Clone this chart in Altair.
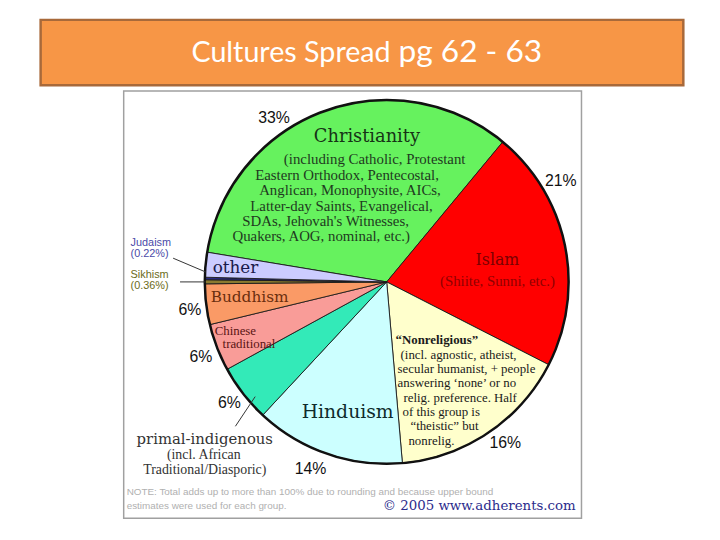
import math
import altair as alt
import pandas as pd

# ---------------- data ----------------
religions = ["Christianity", "Islam", "Nonreligious", "Hinduism", "primal-indigenous",
             "Chinese traditional", "Buddhism", "Sikhism", "Judaism", "other"]
# slice shares as drawn in the picture (percent of the circle)
shares = [33.4, 21.5, 16.1, 13.3, 5.1, 4.2, 3.6, 0.36, 0.22, 2.2]
# printed percentage labels
pct_labels = ["33%", "21%", "16%", "14%", "6%", "6%", "6%"]
slice_colors = ["#66f25e", "#ff0000", "#ffffcc", "#ccffff", "#33eab8",
                "#f99c98", "#fa9a66", "#8a7a30", "#2a2a80", "#ccccff"]

title_left = "Cultures Spread"
title_right = "pg 62 - 63"

christ_lines = ["(including Catholic, Protestant", "Eastern Orthodox, Pentecostal,",
                "Anglican, Monophysite, AICs,", "Latter-day Saints, Evangelical,",
                "SDAs, Jehovah's Witnesses,", "Quakers, AOG, nominal, etc.)"]
nonrel_lines = ["(incl. agnostic, atheist,", "secular humanist, + people",
                "answering \u2018none\u2019 or no", "relig. preference. Half",
                "of this group is", "\u201ctheistic\u201d but", "nonrelig."]
note_lines = ["NOTE: Total adds up to more than 100% due to rounding and because upper bound",
              "estimates were used for each group."]

# ---------------- layout ----------------
W, H = 712, 532
CX, CY, R = 391, 282, 184
START = math.radians(279.4)

xs = alt.Scale(domain=[8, 720], nice=False, zero=False)
ys = alt.Scale(domain=[8, 540], nice=False, zero=False, reverse=True)

def X(f):
    return alt.X(f, type="quantitative", scale=xs, axis=None)

def Y(f):
    return alt.Y(f, type="quantitative", scale=ys, axis=None)

# boxes
boxes = pd.DataFrame([
    dict(x=41, x2=691, y=17, y2=83, fill="#f79646", stroke="#a8693a", sw=2.5),
    dict(x=125, x2=588, y=89, y2=521, fill="#ffffff", stroke="#a0a0a0", sw=1.5),
])
layers = []
for _, b in boxes.iterrows():
    layers.append(alt.Chart(pd.DataFrame([b])).mark_rect(
        fill=b["fill"], stroke=b["stroke"], strokeWidth=b["sw"]).encode(
        x=X("x"), x2="x2", y=Y("y"), y2="y2"))

# pie
pie_df = pd.DataFrame({"religion": religions, "share": shares,
                       "order": list(range(len(religions))), "color": slice_colors})
layers.append(alt.Chart(pie_df).mark_arc(outerRadius=R, stroke="#1a1a1a", strokeWidth=0.9).encode(
    theta=alt.Theta("share:Q", stack=True, scale=alt.Scale(range=[START, START + 2 * math.pi])),
    color=alt.Color("color:N", scale=None, legend=None),
    order=alt.Order("order:Q"),
    x=alt.value(CX - 8), y=alt.value(CY - 8)))
layers.append(alt.Chart(pd.DataFrame({"a": [0]})).mark_arc(
    theta=0, theta2=2 * math.pi, outerRadius=R, fillOpacity=0, stroke="#111111", strokeWidth=2.5
).encode(x=alt.value(CX - 8), y=alt.value(CY - 8)))

# leader lines
leaders = pd.DataFrame([
    dict(x=175, y=258, x2=208, y2=272),
    dict(x=182, y=282, x2=208, y2=282),
    dict(x=238, y=428, x2=258, y2=398),
])
layers.append(alt.Chart(leaders).mark_rule(color="#333333", strokeWidth=1).encode(
    x=X("x"), y=Y("y"), x2="x2", y2="y2"))

# texts
SER = "DejaVu Serif"
LSER = "Liberation Serif"
SANS = "Liberation Sans"
T = []
def add(text, x, y, size, color, font, align="center", weight="normal"):
    T.append(dict(text=text, x=x, y=y, size=size, color=color, font=font, align=align, weight=weight))

add(title_left, 395, 51, 29, "#ffffff", "Lato", "right")
add(title_right, 403, 50, 32, "#ffffff", "Lato", "left")

pct_pos = [(277, 116), (567, 180), (511, 445), (314, 471), (192, 310), (203, 358), (232, 405)]
for lab, (px, py) in zip(pct_labels, pct_pos):
    add(lab, px, py, 16, "#111111", SANS)

add("Christianity", 371, 136, 18, "#163316", SER)
c_x = [287, 258, 262, 253, 245, 235]
for i, (ln, lx) in enumerate(zip(christ_lines, c_x)):
    add(ln, lx, 158 + i * 15.6, 15, "#1f3a1f", LSER, "left")

add("Islam", 503, 260, 16, "#7a0000", SER)
add("(Shiite, Sunni, etc.)", 503, 281, 15, "#900000", LSER)

add("\u201cNonreligious\u201d", 400, 341, 13, "#1a1a1a", LSER, "left", "bold")
n_x = [405, 402, 402, 408, 407, 415, 413]
for i, (ln, lx) in enumerate(zip(nonrel_lines, n_x)):
    add(ln, lx, 355.5 + i * 14.5, 13, "#1a1a1a", LSER, "left")

add("Hinduism", 305, 414, 19, "#0f2b2b", SER, "left")
add("primal-indigenous", 207, 441, 15, "#333333", SER)
add("(incl. African", 206, 457, 14, "#333333", LSER)
add("Traditional/Diasporic)", 207, 472, 14, "#333333", LSER)

add("Chinese", 217, 332, 13, "#5a1414", LSER, "left")
add("traditional", 225, 345, 13, "#5a1414", LSER, "left")
add("Buddhism", 213, 297, 15.5, "#6a2e0e", SER, "left")
add("other", 215, 268, 17, "#1a1a4a", SER, "left")

add("Judaism", 132, 243, 11, "#4a4aa8", SANS, "left")
add("(0.22%)", 132, 254, 11, "#4a4aa8", SANS, "left")
add("Sikhism", 132, 275, 11, "#6b6b20", SANS, "left")
add("(0.36%)", 132, 286, 11, "#6b6b20", SANS, "left")

add(note_lines[0], 128, 495, 10, "#b0b0b0", SANS, "left")
add(note_lines[1], 128, 509, 10, "#b0b0b0", SANS, "left")
add("\u00a9 2005 www.adherents.com", 387, 509, 13.5, "#2b2b8c", SER, "left")

tdf = pd.DataFrame(T)
for (font, align, weight), g in tdf.groupby(["font", "align", "weight"]):
    layers.append(alt.Chart(g.reset_index(drop=True)).mark_text(
        font=font, align=align, baseline="middle", fontWeight=weight).encode(
        x=X("x"), y=Y("y"), text="text:N",
        size=alt.Size("size:Q", scale=None, legend=None),
        color=alt.Color("color:N", scale=None, legend=None)))

chart = alt.layer(*layers).properties(
    width=W, height=H, padding=0, background="white",
    autosize=alt.AutoSizeParams(type="none")
).configure_view(stroke=None)

chart.save("out.html", embed_options={"renderer": "svg", "actions": False})
